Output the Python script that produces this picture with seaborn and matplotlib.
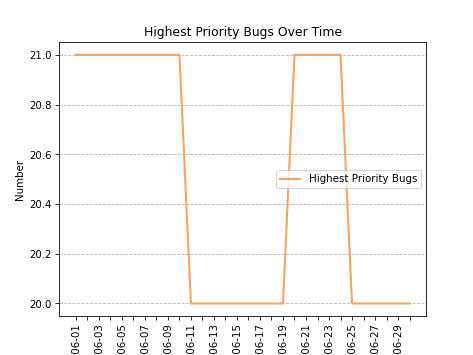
import matplotlib
matplotlib.use("Agg")
import matplotlib.pyplot as plt
import seaborn as sns
import pandas as pd

# daily counts of highest priority bugs, June 1 - June 30
dates = ["2024-06-%02d" % d for d in range(1, 31)]
counts = [21, 21, 21, 21, 21, 21, 21, 21, 21, 21,
          20, 20, 20, 20, 20, 20, 20, 20, 20,
          21, 21, 21, 21, 21,
          20, 20, 20, 20, 20, 20]

df = pd.DataFrame({"date": dates, "count": counts})
df["pos"] = range(len(df))

fig, ax = plt.subplots(figsize=(6.4, 4.8), dpi=74)
sns.lineplot(data=df, x="pos", y="count", color="#f4a460", linewidth=2,
             label="Highest Priority Bugs", ax=ax)

# every day gets a tick, only odd days are labelled
ax.set_xticks(df["pos"])
ax.set_xticklabels([d if i % 2 == 0 else "" for i, d in enumerate(dates)], rotation=90)
ax.yaxis.grid(True, linestyle="--", color="#b0b0b0", linewidth=0.8)
ax.set_axisbelow(True)
ax.set_title("Highest Priority Bugs Over Time")
ax.set_xlabel("")
ax.set_ylabel("Number")
ax.legend(loc="center right")

plt.savefig("out.png", dpi=74)
